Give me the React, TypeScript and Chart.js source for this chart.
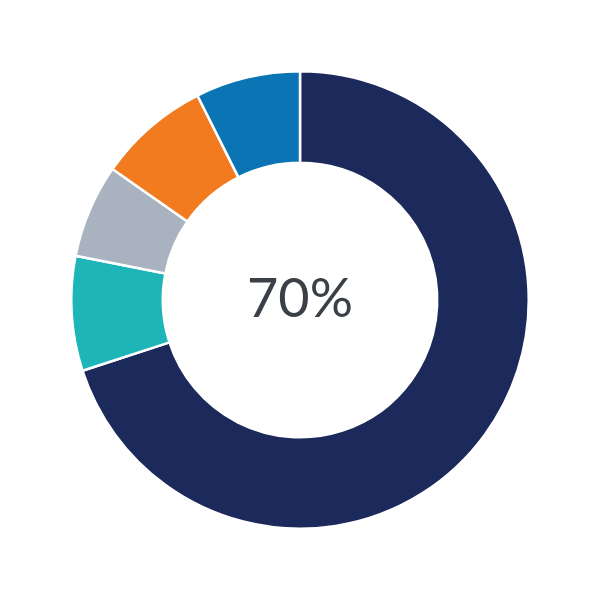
import React, { useEffect, useRef } from "react";
import { Chart, registerables } from "chart.js";

Chart.register(...registerables);

const labels = ["Navy", "Teal", "Gray", "Orange", "Blue"];
const values = [70, 8.1, 6.6, 7.9, 7.4];
const colors = ["#1b2a5a", "#1db5b8", "#a9b3bf", "#f27b20", "#0a74b4"];
const centerLabel = "70%";

export default function App() {
  const ref = useRef<HTMLCanvasElement>(null);
  useEffect(() => {
    if (!ref.current) return;
    const chart = new Chart(ref.current, {
      type: "doughnut",
      data: {
        labels,
        datasets: [
          {
            data: values,
            backgroundColor: colors,
            borderColor: "#ffffff",
            borderWidth: 2.5,
          },
        ],
      },
      options: {
        animation: false,
        responsive: false,
        cutout: "60%",
        layout: { padding: 70 },
        plugins: { legend: { display: false }, tooltip: { enabled: false } },
      },
    });
    return () => chart.destroy();
  }, []);
  return (
    <div style={{ position: "absolute", left: 0, top: 0, width: 600, height: 600, background: "#fff" }}>
      <canvas ref={ref} width={600} height={600} style={{ width: 600, height: 600 }} />
      <div
        style={{
          position: "absolute",
          left: 0,
          top: 0,
          width: 600,
          height: 600,
          display: "flex",
          alignItems: "center",
          justifyContent: "center",
          fontFamily: "Lato",
          fontSize: 54,
          fontWeight: 400,
          color: "#3b4048",
          pointerEvents: "none",
        }}
      >
        <span style={{ marginTop: -8 }}>{centerLabel}</span>
      </div>
    </div>
  );
}
